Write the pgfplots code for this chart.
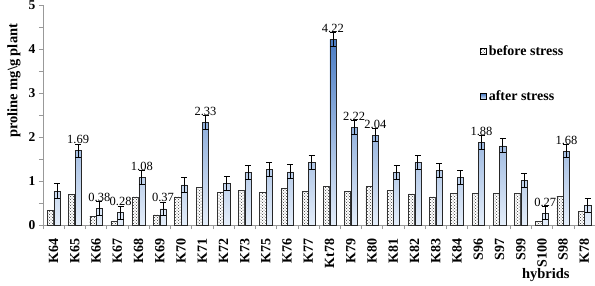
\documentclass[border=0pt]{standalone}
\usepackage{pgfplots}
\pgfplotsset{compat=1.18}
\usepackage{pgfplotstable}
\usetikzlibrary{patterns}
\usepackage{fontspec}
\setmainfont{Liberation Serif}
\definecolor{barblue}{HTML}{4A7CC4}
\definecolor{barlight}{HTML}{E4EDF9}
\pgfplotstableread{
x name before after err lab
0 K64 0.34 0.77 0.17 {}
1 K65 0.70 1.69 0.15 1.69
2 K66 0.20 0.38 0.16 0.38
3 K67 0.08 0.28 0.15 0.28
4 K68 0.64 1.08 0.15 1.08
5 K69 0.23 0.37 0.15 0.37
6 K70 0.64 0.91 0.17 {}
7 K71 0.86 2.33 0.15 2.33
8 K72 0.75 0.95 0.16 {}
9 K73 0.79 1.20 0.16 {}
10 K75 0.75 1.26 0.16 {}
11 K76 0.83 1.21 0.16 {}
12 K77 0.76 1.42 0.16 {}
13 Kt78 0.88 4.22 0.15 4.22
14 K79 0.77 2.22 0.15 2.22
15 K80 0.88 2.04 0.15 2.04
16 K81 0.79 1.19 0.16 {}
17 K82 0.71 1.43 0.16 {}
18 K83 0.64 1.24 0.16 {}
19 K84 0.73 1.09 0.16 {}
20 S96 0.73 1.88 0.16 1.88
21 S97 0.72 1.80 0.16 {}
22 S99 0.73 1.01 0.16 {}
23 S100 0.09 0.27 0.15 0.27
24 S98 0.66 1.68 0.15 1.68
25 K78 0.32 0.45 0.16 {}
}\data
\begin{document}
\begin{tikzpicture}
\begin{axis}[
  name=ax, at={(0,0)}, anchor=south west,
  scale only axis, width=552pt, height=220pt,
  xmin=-0.5, xmax=25.5, ymin=0, ymax=5,
  axis lines*=left,
  axis line style={gray!80},
  every tick/.style={gray!80},
  xtick={0,...,25},
  xticklabels from table={\data}{name},
  major x tick style={draw=none},
  minor xtick={-0.5,0.5,...,25.5},
  minor tick length=4pt,
  ytick={0,1,2,3,4,5},
  minor ytick={0.5,1.5,2.5,3.5,4.5},
  major tick length=4pt,
  tick align=outside,
  /pgf/number format/assume math mode=true,
  xticklabel style={rotate=90, anchor=east, font=\bfseries\fontsize{14}{16}\selectfont, xshift=-6pt},
  yticklabel style={font=\bfseries\fontsize{13.5}{16}\selectfont},
  ylabel={proline mg\textbackslash g plant},
  ylabel style={at={(axis description cs:-0.0525,0.655)}, anchor=center, font=\bfseries\fontsize{14.5}{16}\selectfont},
  xlabel={hybrids},
  xlabel style={at={(axis description cs:0.911,-0.228)}, anchor=center, font=\bfseries\fontsize{14.5}{16}\selectfont},
  legend style={at={(rel axis cs:0.792,0.835)}, anchor=north west, draw=none, fill=none,
    font=\bfseries\fontsize{14}{16}\selectfont, row sep=30pt, cells={anchor=west},
    inner xsep=0pt},
]
\addplot[ybar, bar width=0.29, bar shift=0pt, draw=black!80, pattern=crosshatch dots, pattern color=black!80,
  legend image code/.code={\draw[draw=black, pattern=crosshatch dots, pattern color=black!80] (0pt,-3pt) rectangle (6pt,3pt);}]
  table[x expr=\thisrow{x}-0.155, y=before] {\data};
\addlegendentry{before stress}
\addplot[ybar, bar width=0.29, bar shift=0pt, draw=black!85, top color=barblue, bottom color=barlight,
  legend image code/.code={\draw[draw=black, fill=barblue!60] (0pt,-3pt) rectangle (6pt,3pt);},
  error bars/.cd, y dir=both, y explicit,
  error bar style={black, line width=0.8pt},
  error mark options={rotate=90, mark size=3pt, black, line width=0.8pt}]
  table[x expr=\thisrow{x}+0.155, y=after, y error=err] {\data};
\addlegendentry{after stress}
\addplot[ybar, bar width=0.29, bar shift=0pt, draw=none, fill=none,
  nodes near coords, point meta=explicit symbolic,
  nodes near coords style={anchor=south, yshift=5.5pt, inner sep=1pt, font=\fontsize{12.5}{14}\selectfont, black},
  forget plot]
  table[x expr=\thisrow{x}+0.155, y=after, meta=lab] {\data};
\end{axis}
\pgfresetboundingbox
\useasboundingbox (-43pt,-60pt) rectangle (552pt,225pt);
\end{tikzpicture}
\end{document}
